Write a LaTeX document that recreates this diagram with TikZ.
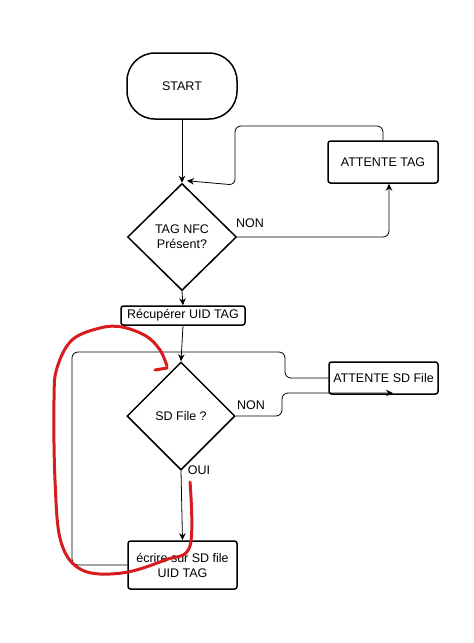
\documentclass[tikz,border=0pt]{standalone}
\usepackage{fontspec}
\setmainfont{Liberation Sans}
\usetikzlibrary{shapes.geometric,arrows.meta}
\definecolor{scribble}{RGB}{215,28,32}
\begin{document}
\begin{tikzpicture}[x=1pt,y=-1pt,
  txt/.style={font=\fontsize{12.5}{15}\selectfont},
  box/.style={draw, line width=1.5pt, rounded corners=2.5pt, inner sep=0pt, align=center, txt},
  terminal/.style={box, rounded corners=28pt},
  decision/.style={draw, diamond, line width=1.5pt, inner sep=0pt, align=center, txt},
  conn/.style={line width=0.8pt, rounded corners=6pt},
  arr/.style={conn, -{Stealth[length=7pt,width=6.5pt]}},
  lbl/.style={txt, inner sep=0pt},
  redpen/.style={draw=scribble, line width=3pt, line cap=round, line join=round}
]
\useasboundingbox[fill=white] (0,0) rectangle (474,643);

\node[terminal, minimum width=110pt, minimum height=66pt] (start) at (182,86) {START};
\node[box, minimum width=110pt, minimum height=42pt] (att1) at (383,162) {ATTENTE TAG};
\node[decision, minimum width=109pt, minimum height=107pt] (d1) at (182,237) {TAG NFC\\Présent?};
\node[box, minimum width=124pt, minimum height=19pt] (rec) at (183,315.5) {Récupérer UID TAG};
\node[decision, minimum width=108pt, minimum height=108pt] (d2) at (181,416) {SD File ?};
\node[box, minimum width=109pt, minimum height=32pt] (att2) at (383.5,378) {ATTENTE SD File};
\node[box, minimum width=109pt, minimum height=48pt] (ecr) at (182.5,565) {écrire sur SD file\\UID TAG};

\coordinate (j1) at (235,126);
\coordinate (j2) at (235,185);
\coordinate (n2a) at (282,393);
\coordinate (n2end) at (393,393);
\coordinate (top2) at (182,352);
\coordinate (lft) at (72,352);
\coordinate (rgt) at (285,352);

\draw[arr] (start) -- (d1.north);
\draw[arr] (att1.north) |- (j1) -- (j2) -- ([shift={(5pt,2pt)}]d1.north);
\draw[arr] (d1.east) -| ([xshift=6pt]att1.south);
\draw[arr] (d1.south) -- (rec.north);
\draw[arr] (rec.south) -- (d2.north);
\draw[arr] (d2.east) -| (n2a) -- (n2end);
\draw[arr] (d2.south) -- (ecr.north);
\draw[conn] (ecr.west) -| (lft) -- (top2);
\draw[conn] (att2.west) -| (rgt) -- (top2);

\node[lbl] (non1) at (250,223) {NON};
\node[lbl] (non2) at (251,405) {NON};
\node[lbl] (oui) at (199,470.5) {OUI};

\draw[redpen] plot[smooth, tension=0.6] coordinates {(190,482) (190,546) (165,560) (122,573) (82,570) (61,542) (55,480) (54,400) (57,368) (72,340) (100,328) (122,327) (146,336) (160,350) (167,366)};
\draw[redpen] (155,370) -- (167,368);
\end{tikzpicture}
\end{document}
